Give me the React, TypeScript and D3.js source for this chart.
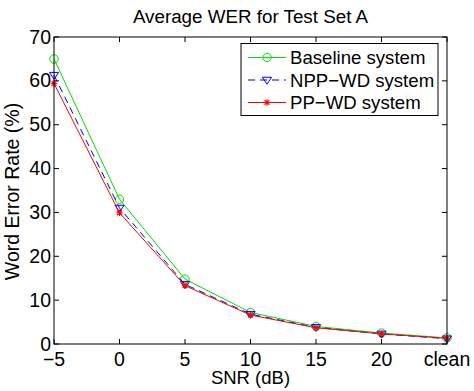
import React from "react";
import * as d3 from "d3";

const categories = ["-5", "0", "5", "10", "15", "20", "clean"];
const baseline = [65.0, 33.0, 14.8, 7.2, 4.0, 2.5, 1.4];
const nppwd = [61.3, 31.0, 13.6, 6.8, 3.8, 2.3, 1.2];
const ppwd = [59.4, 29.9, 13.3, 6.6, 3.7, 2.3, 1.3];
const yTicks = [0, 10, 20, 30, 40, 50, 60, 70];
const xTickLabels = ["\u22125", "0", "5", "10", "15", "20", "clean"];
const seriesNames = ["Baseline system", "NPP\u2212WD system", "PP\u2212WD system"];

const W = 474, H = 391;
const m = { l: 54, r: 447, t: 37, b: 344 };
const FONT = "'Liberation Sans', Arial, Helvetica, sans-serif";

function Marker({ kind, x, y, color }: { kind: string; x: number; y: number; color: string }) {
  if (kind === "o") return <circle cx={x} cy={y} r={4.2} fill="none" stroke={color} strokeWidth={1} />;
  if (kind === "v") {
    const s = 4.6;
    return <path d={`M${x - s},${y - s * 0.6}L${x + s},${y - s * 0.6}L${x},${y + s * 0.9}Z`} fill="none" stroke={color} strokeWidth={1} />;
  }
  const s = 3.2;
  return (
    <g stroke={color} strokeWidth={1.2}>
      <line x1={x - s} y1={y} x2={x + s} y2={y} />
      <line x1={x} y1={y - s} x2={x} y2={y + s} />
      <line x1={x - s * 0.75} y1={y - s * 0.75} x2={x + s * 0.75} y2={y + s * 0.75} />
      <line x1={x - s * 0.75} y1={y + s * 0.75} x2={x + s * 0.75} y2={y - s * 0.75} />
    </g>
  );
}

export default function App() {
  const x = d3.scalePoint<string>().domain(categories).range([m.l, m.r]);
  const y = d3.scaleLinear().domain([0, 70]).range([m.b, m.t]);
  const line = d3.line<number>().x((_, i) => x(categories[i])!).y((d) => y(d));
  const series = [
    { data: baseline, color: "#00e000", dash: "", mk: "o" },
    { data: nppwd, color: "#0000ff", dash: "7,5", mk: "v" },
    { data: ppwd, color: "#ff0000", dash: "", mk: "*" },
  ];
  const tl = 5;
  return (
    <svg width={W} height={H} style={{ position: "absolute", left: 0, top: 0, background: "#fff" }} fontFamily={FONT}>
      <rect x={0} y={0} width={W} height={H} fill="#fff" />
      <g stroke="#000" strokeWidth={1}>
        {categories.map((c) => (
          <g key={c}>
            <line x1={x(c)} x2={x(c)} y1={m.b} y2={m.b - tl} />
            <line x1={x(c)} x2={x(c)} y1={m.t} y2={m.t + tl} />
          </g>
        ))}
        {yTicks.map((t) => (
          <g key={t}>
            <line x1={m.l} x2={m.l + tl} y1={y(t)} y2={y(t)} />
            <line x1={m.r} x2={m.r - tl} y1={y(t)} y2={y(t)} />
          </g>
        ))}
      </g>
      {series.map((s, i) => (
        <g key={i}>
          <path d={line(s.data)!} fill="none" stroke={s.color} strokeWidth={1} strokeDasharray={s.dash} />
          {s.data.map((v, j) => (
            <Marker key={j} kind={s.mk} x={x(categories[j])!} y={y(v)} color={s.color} />
          ))}
        </g>
      ))}
      <rect x={m.l} y={m.t} width={m.r - m.l} height={m.b - m.t} fill="none" stroke="#000" strokeWidth={1} />
      {categories.map((c, i) => (
        <text key={c} x={x(c)} y={366} textAnchor="middle" fontSize={19.5}>{xTickLabels[i]}</text>
      ))}
      {yTicks.map((t) => (
        <text key={t} x={m.l - 3} y={y(t) + 6.5} textAnchor="end" fontSize={19.5}>{t}</text>
      ))}
      <text x={(m.l + m.r) / 2} y={23} textAnchor="middle" fontSize={18.8}>Average WER for Test Set A</text>
      <text x={(m.l + m.r) / 2} y={384} textAnchor="middle" fontSize={18.5}>SNR (dB)</text>
      <text transform={`translate(19,${(m.t + m.b) / 2 + 1}) rotate(-90)`} textAnchor="middle" fontSize={19.5}>Word Error Rate (%)</text>
      <rect x={241} y={43.5} width={197} height={72} fill="#fff" stroke="#000" strokeWidth={1} />
      {series.map((s, i) => {
        const ly = 57.5 + i * 22.5;
        return (
          <g key={i}>
            <line x1={248} x2={286} y1={ly} y2={ly} stroke={s.color} strokeWidth={1} strokeDasharray={s.dash} />
            <Marker kind={s.mk} x={267} y={ly} color={s.color} />
            <text x={290} y={ly + 6.5} fontSize={18.6}>{seriesNames[i]}</text>
          </g>
        );
      })}
    </svg>
  );
}
